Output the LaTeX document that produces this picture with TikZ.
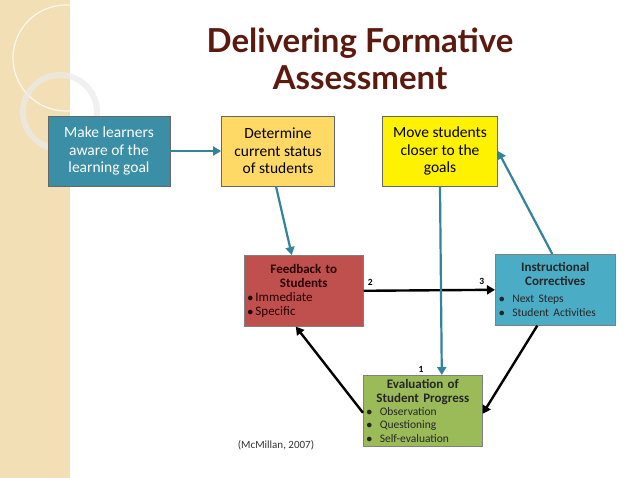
\documentclass[tikz,border=0pt]{standalone}
\usepackage{fontspec}
\setmainfont{Carlito}
\newfontfamily\titlefont{Lato}
\usetikzlibrary{arrows.meta}
\definecolor{teal1}{HTML}{31849B}
\definecolor{tealbox}{HTML}{3A8FA6}
\definecolor{gold}{HTML}{FFD966}
\definecolor{redb}{HTML}{C0504D}
\definecolor{blueb}{HTML}{4BACC6}
\definecolor{greenb}{HTML}{9BBB59}
\definecolor{brownt}{HTML}{5C1A0E}
\definecolor{beige}{HTML}{F3DFB5}
\tikzset{
  tbox/.style={draw=black!60, line width=0.8pt, minimum width=115pt, minimum height=70pt, align=center, font=\fontsize{15.5}{17.5}\selectfont, inner sep=2pt},
  cyc/.style={draw=black!50, line width=0.6pt, minimum width=119pt, minimum height=71pt, inner sep=3pt, anchor=north west, text width=113pt, font=\fontsize{13}{14}\selectfont},
  tarr/.style={draw=teal1, line width=2.2pt, -{Triangle[length=8pt,width=9pt]}},
  barr/.style={draw=black, line width=2.4pt, -{Triangle[length=8pt,width=9pt]}},
  num/.style={font=\bfseries\fontsize{9.5}{10}\selectfont},
  ttl/.style={font=\titlefont\bfseries\fontsize{33}{37}\selectfont, align=center}
}
\begin{document}
\begin{tikzpicture}[x=1pt,y=-1pt]
\useasboundingbox (0,0) rectangle (638,478);
\fill[white] (0,0) rectangle (638,478);
\fill[beige] (0,0) rectangle (70,478);
\draw[white,line width=1.2pt,opacity=0.8] (66,58) circle (53);
\draw[black!8,line width=6pt,opacity=0.7] (60,112) circle (37);
\node[ttl, text=brownt] (title) at (360,59) {Delivering Formative\\Assessment};
\node[tbox, fill=tealbox, text=white, minimum width=122pt] (make) at (109,151) {Make learners\\aware of the\\learning goal};
\node[tbox, fill=gold, minimum width=113pt] (det) at (278,151) {Determine\\current status\\of students};
\node[tbox, fill=yellow, minimum width=115pt] (move) at (440,151) {Move students\\closer to the\\goals};
\node[cyc, fill=redb, text=black!85!red] (fb) at (244,255) {\centering\textbf{Feedback to\\Students}\par\raggedright $\bullet$\,Immediate\\$\bullet$\,Specific};
\node[cyc, fill=blueb, text=black!85, minimum width=120pt] (ins) at (495,254) {\centering\textbf{Instructional\\Correctives}\par\vspace{3pt}\raggedright\fontsize{11.5}{14}\selectfont$\bullet$\; Next Steps\\$\bullet$\; Student Activities};
\node[cyc, fill=greenb, text=black!85] (ev) at (363,375) {\centering\textbf{Evaluation of\\Student Progress}\par\raggedright\fontsize{11.5}{13}\selectfont$\bullet$\; Observation\\$\bullet$\; Questioning\\$\bullet$\; Self-evaluation};
\node[font=\fontsize{11}{12}\selectfont, text=black!80] (cite) at (276,445) {(McMillan, 2007)};
\draw[tarr] (make.east) -- (det.west);
\draw[tarr] ([xshift=-2pt]det.south) -- ([xshift=-12pt]fb.north);
\draw[barr] (fb.east) -- (ins.west) node[num, pos=0.05, above=1pt] {2} node[num, pos=0.9, above=1pt] {3};
\draw[tarr] (move.south) -- ([xshift=19pt]ev.north) node[num, pos=0.97, left=14pt, text=black] {1};
\draw[tarr] ([xshift=-3pt]ins.north) -- (move.east);
\draw[barr] ([xshift=-18pt]ins.south) -- ([yshift=-3pt]ev.east);
\draw[barr] ([yshift=-2pt]ev.west) -- ([xshift=-8pt]fb.south);
\end{tikzpicture}
\end{document}
